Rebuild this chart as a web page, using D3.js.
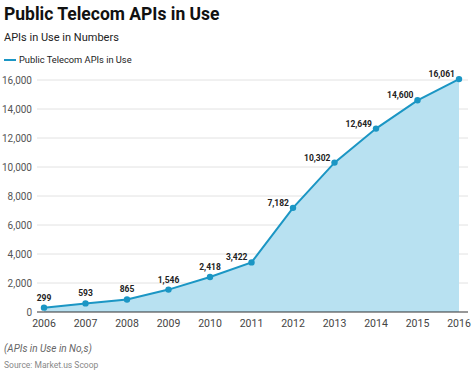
<!DOCTYPE html>
<html>
<head>
<meta charset="utf-8">
<script src="https://cdn.jsdelivr.net/npm/d3@7"></script>
<style>
  body { margin: 0; background: #fff; font-family: Roboto, "Noto Sans", sans-serif; }
  svg { display: block; }
</style>
</head>
<body>
<svg width="474" height="372"></svg>
<script>
const years = [2006, 2007, 2008, 2009, 2010, 2011, 2012, 2013, 2014, 2015, 2016];
const apis = [299, 593, 865, 1546, 2418, 3422, 7182, 10302, 12649, 14600, 16061];
const yTicks = [0, 2000, 4000, 6000, 8000, 10000, 12000, 14000, 16000];

const svg = d3.select("svg");
const lineColor = "#1b96c4";
const fillColor = "#b8e1f1";

const x = d3.scalePoint().domain(years).range([44, 459]);
const y = d3.scaleLinear().domain([0, 16000]).range([312, 80]);
const fmt = d3.format(",");

// title block
svg.append("text").attr("x", 4).attr("y", 20)
    .attr("font-size", 17.5).attr("font-weight", "bold").attr("fill", "#111")
    .text("Public Telecom APIs in Use");
svg.append("text").attr("x", 4).attr("y", 41)
    .attr("font-size", 11).attr("fill", "#222")
    .text("APIs in Use in Numbers");

// legend
svg.append("line").attr("x1", 4).attr("x2", 16).attr("y1", 60).attr("y2", 60)
    .attr("stroke", lineColor).attr("stroke-width", 2);
svg.append("text").attr("x", 19).attr("y", 63.3)
    .attr("font-size", 9.3).attr("fill", "#222")
    .text("Public Telecom APIs in Use");

// gridlines + y labels
svg.selectAll(".grid").data(yTicks.slice(1)).enter().append("line")
    .attr("class", "grid")
    .attr("x1", 37).attr("x2", 468)
    .attr("y1", d => y(d)).attr("y2", d => y(d))
    .attr("stroke", "#e2e2e2").attr("stroke-width", 1);

svg.selectAll(".ylab").data(yTicks).enter().append("text")
    .attr("class", "ylab")
    .attr("x", 32).attr("y", d => y(d) + 3.5)
    .attr("text-anchor", "end")
    .attr("font-size", 10).attr("fill", "#555")
    .text(d => fmt(d));

// area + line
const area = d3.area()
    .x((d, i) => x(years[i]))
    .y0(y(0))
    .y1(d => y(d));
const line = d3.line()
    .x((d, i) => x(years[i]))
    .y(d => y(d));

svg.append("path").datum(apis).attr("d", area).attr("fill", fillColor);
svg.append("path").datum(apis).attr("d", line)
    .attr("fill", "none").attr("stroke", lineColor).attr("stroke-width", 2);

svg.selectAll(".pt").data(apis).enter().append("circle")
    .attr("class", "pt")
    .attr("cx", (d, i) => x(years[i]))
    .attr("cy", d => y(d))
    .attr("r", 3.2)
    .attr("fill", lineColor);

// value labels: centered for early years, left of point once the line gets steep
svg.selectAll(".vlab").data(apis).enter().append("text")
    .attr("class", "vlab")
    .attr("x", (d, i) => i < 5 ? x(years[i]) : x(years[i]) - 4)
    .attr("y", (d, i) => i < 5 ? y(d) - 7 : y(d) - 2)
    .attr("text-anchor", (d, i) => i < 5 ? "middle" : "end")
    .attr("font-size", 8.5).attr("font-weight", "bold").attr("fill", "#222")
    .text(d => fmt(d));

// x axis
svg.append("line").attr("x1", 37).attr("x2", 468).attr("y1", y(0)).attr("y2", y(0))
    .attr("stroke", "#333").attr("stroke-width", 1.2);
svg.selectAll(".xlab").data(years).enter().append("text")
    .attr("class", "xlab")
    .attr("x", d => x(d)).attr("y", 327)
    .attr("text-anchor", "middle")
    .attr("font-size", 10.5).attr("fill", "#444")
    .text(d => d);

// footer
svg.append("text").attr("x", 4).attr("y", 352)
    .attr("font-size", 10).attr("font-style", "italic").attr("fill", "#666")
    .text("(APIs in Use in No,s)");
svg.append("text").attr("x", 4).attr("y", 368)
    .attr("font-size", 8.5).attr("fill", "#888")
    .text("Source: Market.us Scoop");
</script>
</body>
</html>
